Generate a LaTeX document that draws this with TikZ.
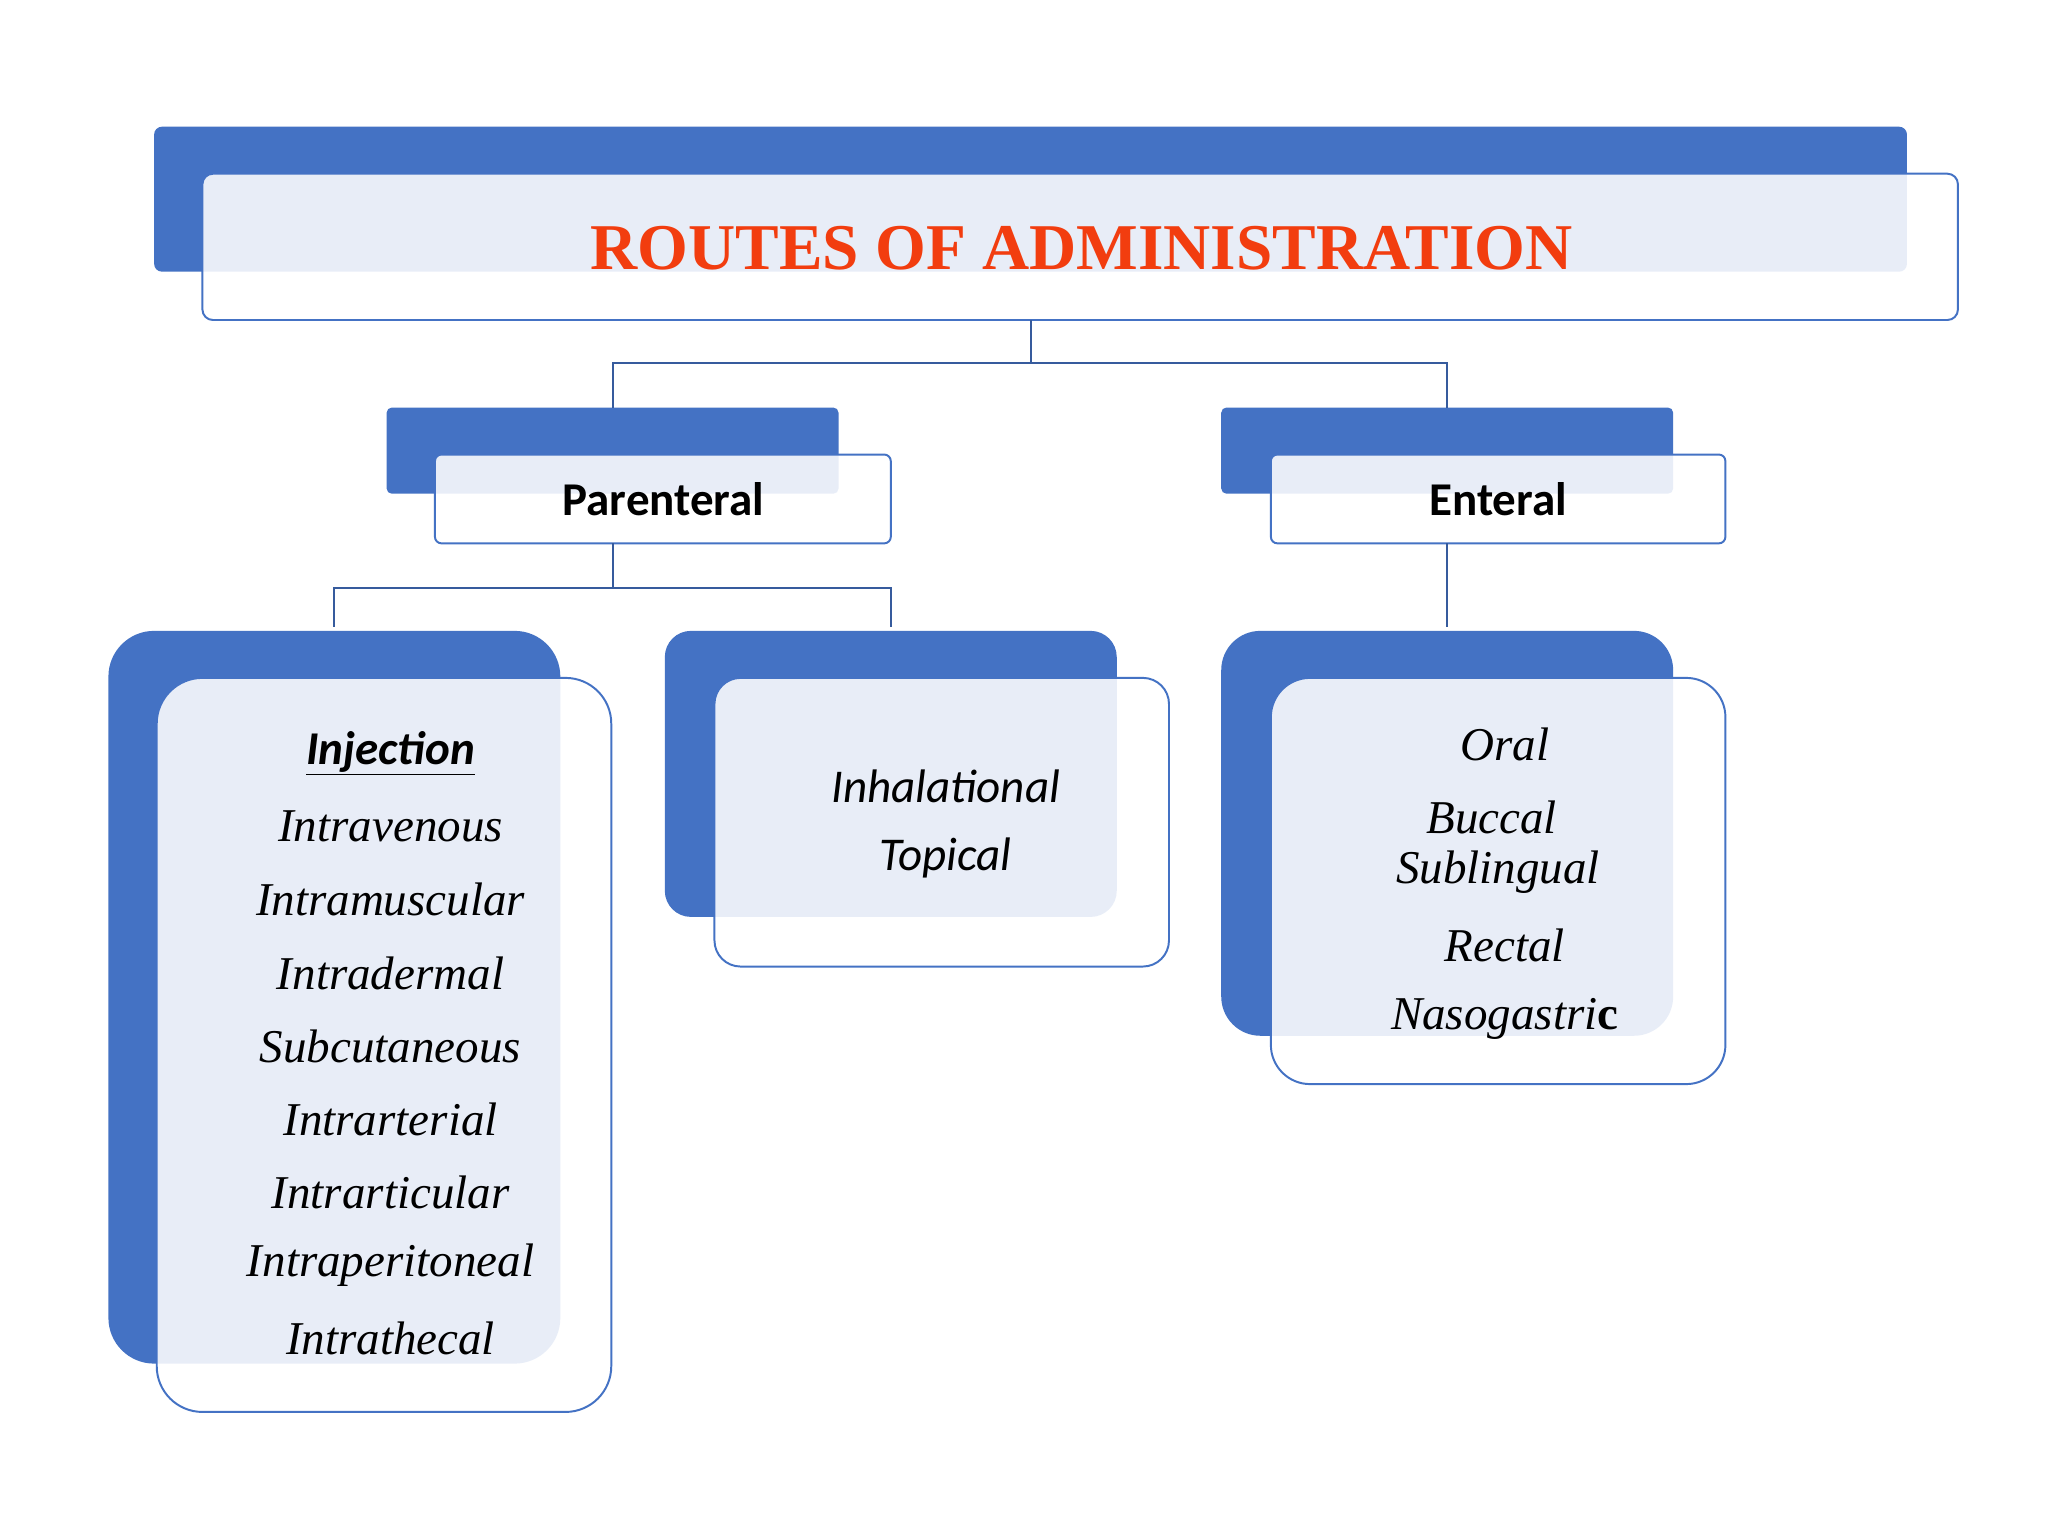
\documentclass[tikz,border=0pt]{standalone}
\usepackage{fontspec}
\setmainfont{Liberation Serif}
\newfontfamily\carlitofont{Carlito}
\definecolor{bblue}{HTML}{4472C4}
\definecolor{ttl}{HTML}{F23D0F}
\begin{document}
\begin{tikzpicture}[x=1pt,y=-1pt,
 back/.style={fill=bblue,rounded corners=#1},
 front/.style={draw=bblue,line width=1.5pt,fill=white,fill opacity=0.88,rounded corners=#1},
 conn/.style={draw=bblue!80!black,line width=1.5pt},
 it/.style={font=\fontsize{36}{40}\selectfont\itshape},
 cit/.style={font=\fontsize{36}{40}\selectfont\carlitofont\itshape}]
\useasboundingbox[fill=white] (0,0) rectangle (1568,1176);
% title
\fill[back=6pt] (118,97) rectangle (1460,208);
\draw[front=8pt] (155,133) rectangle (1499,245);
\node[text=ttl,font=\fontsize{50}{56}\selectfont\bfseries] (title) at (828,190) {ROUTES OF ADMINISTRATION};
% level 2
\fill[back=4pt] (296,312) rectangle (642,378);
\draw[front=5pt] (333,348) rectangle (682,416);
\node[font=\fontsize{36}{40}\selectfont\carlitofont\bfseries] (par) at (508,382) {Parenteral};
\fill[back=4pt] (935,312) rectangle (1281,378);
\draw[front=5pt] (973,348) rectangle (1321,416);
\node[font=\fontsize{36}{40}\selectfont\carlitofont\bfseries] (ent) at (1147,382) {Enteral};
\coordinate (t0) at (789,245); \coordinate (p0) at (469,312); \coordinate (e0) at (1108,312);
\draw[conn] (t0) -- (789,278) -| (p0);
\draw[conn] (789,278) -| (e0);
% level 3
\fill[back=35pt] (83,483) rectangle (429,1044);
\draw[front=35pt] (120,519) rectangle (468,1081);
\fill[back=20pt] (509,483) rectangle (855,702);
\draw[front=20pt] (547,519) rectangle (895,740);
\fill[back=30pt] (935,483) rectangle (1281,793);
\draw[front=30pt] (973,519) rectangle (1321,830);
\coordinate (p1) at (469,416); \coordinate (i0) at (256,480); \coordinate (h0) at (682,480);
\draw[conn] (p1) -- (469,450) -| (i0);
\draw[conn] (469,450) -| (h0);
\coordinate (e1) at (1108,416); \coordinate (o0) at (1108,480);
\draw[conn] (e1) -- (o0);
% texts
\node[font=\fontsize{36}{40}\selectfont\carlitofont\bfseries\itshape] (inj) at (299,577) {\underline{Injection}};
\foreach \t [count=\i] in {Intravenous,Intramuscular,Intradermal,Subcutaneous,Intrarterial,Intrarticular,Intraperitoneal,Intrathecal}
  \node[it] (n\i) at (299,577+56*\i) {\t};
\node[cit] (inh) at (724,602) {Inhalational};
\node[cit] (top) at (724,657) {Topical};
\node[it] (oral) at (1152,570) {Oral};
\node[it] (buc) at (1142,626) {Buccal};
\node[it] (sub) at (1147,668) {Sublingual};
\node[it] (rec) at (1152,724) {Rectal};
\node[it] (nas) at (1152,780) {Nasogastri{\upshape\bfseries c}};
\end{tikzpicture}
\end{document}
